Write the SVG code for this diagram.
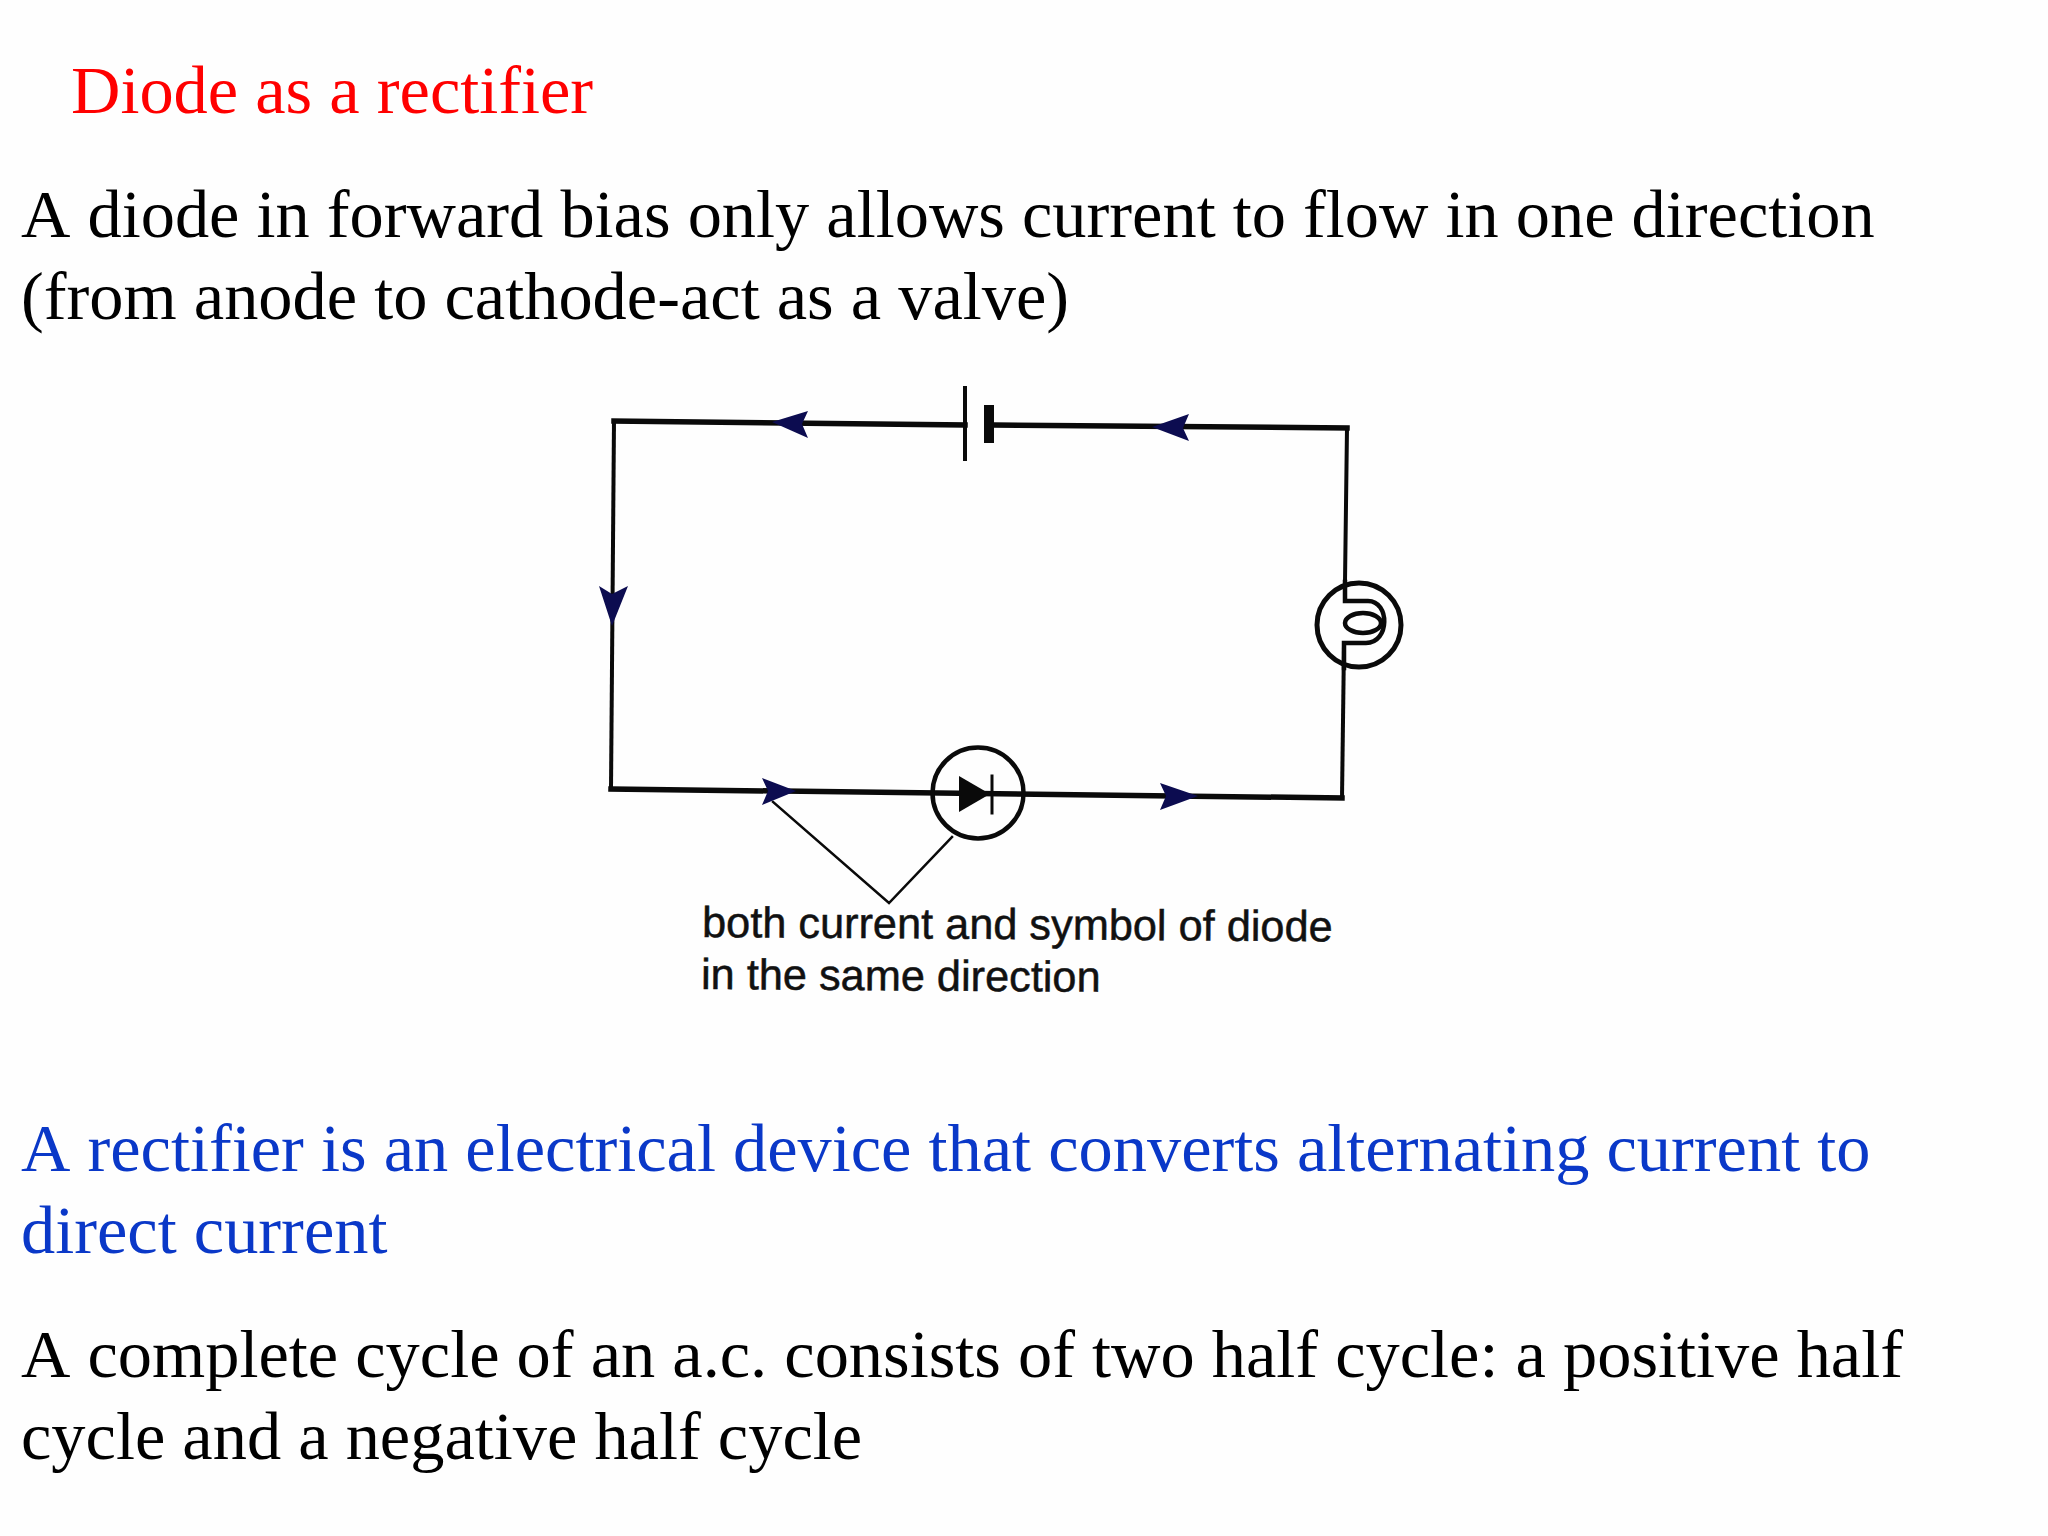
<svg xmlns="http://www.w3.org/2000/svg" width="2048" height="1536" viewBox="0 0 2048 1536">
<style>
text{font-family:"Liberation Serif","Times New Roman",serif;font-size:68.4px;fill:#000;font-kerning:none}
.red{fill:#f00}.blue{fill:#0a38c8}
.lab{font-family:"Liberation Sans",Arial,sans-serif;font-size:43.3px;fill:#111;stroke:#111;stroke-width:.5;font-kerning:auto}
.w{fill:none;stroke:#0a0a0a;stroke-width:4;stroke-linecap:square}
.h{fill:none;stroke:#0a0a0a;stroke-width:5.5;stroke-linecap:square}
.a{fill:#0c0c50}
</style>
<rect width="2048" height="1536" fill="#fefefe"/>
<text class="red" x="71" y="112.5">Diode as a rectifier</text>
<text x="21" y="237">A diode in forward bias only allows current to flow in one direction</text>
<text x="21" y="319">(from anode to cathode-act as a valve)</text>
<g id="connectors">
<path class="h" d="M965 425L614 421"/>
<path class="w" d="M614 421L611 789"/>
<path class="h" d="M611 789L1342 798"/>
<path class="w" d="M1342 798L1344 645"/>
<path class="h" d="M994 425L1347 428"/>
<path class="w" d="M1347 428L1345 582"/>
<path class="w" style="stroke-width:2.5" d="M773 802L889 903L952 837"/>
</g>
<g id="arrows">
<path class="a" d="M772 422L808 411L802 424L808 438Z"/>
<path class="a" d="M1152 427L1189 414L1183 428L1189 441Z"/>
<path class="a" d="M612 626L599 586L612 594L628 586Z"/>
<path class="a" d="M796 791L762 778L768 791L762 805Z"/>
<path class="a" d="M1198 796L1160 783L1166 796L1160 810Z"/>
</g>
<g id="battery">
<path class="w" d="M965 388V459"/>
<rect x="984" y="405" width="10" height="38" fill="#0a0a0a"/>
</g>
<g id="lamp">
<circle cx="1359" cy="625" r="42" fill="none" stroke="#0a0a0a" stroke-width="5"/>
<path class="w" style="stroke-width:4.5" d="M1345 582V601H1368C1390 601 1390 643 1366 643H1344V668"/>
<ellipse cx="1363" cy="623" rx="18" ry="10" fill="none" stroke="#0a0a0a" stroke-width="4.5"/>
</g>
<g id="diode">
<circle cx="978" cy="793" r="45.5" fill="none" stroke="#0a0a0a" stroke-width="4.5"/>
<path d="M959 776L990 794L959 812Z" fill="#0a0a0a"/>
<path class="w" style="stroke-width:3" d="M992 776V813"/>
</g>
<text class="lab" x="702" y="937" transform="rotate(0.4 702 937)">both current and symbol of diode</text>
<text class="lab" x="701" y="989" transform="rotate(0.4 701 989)">in the same direction</text>
<text class="blue" x="21" y="1170.5">A rectifier is an electrical device that converts alternating current to</text>
<text class="blue" x="21" y="1252.5">direct current</text>
<text x="21" y="1376.5">A complete cycle of an a.c. consists of two half cycle: a positive half</text>
<text x="21" y="1458.5">cycle and a negative half cycle</text>
</svg>
